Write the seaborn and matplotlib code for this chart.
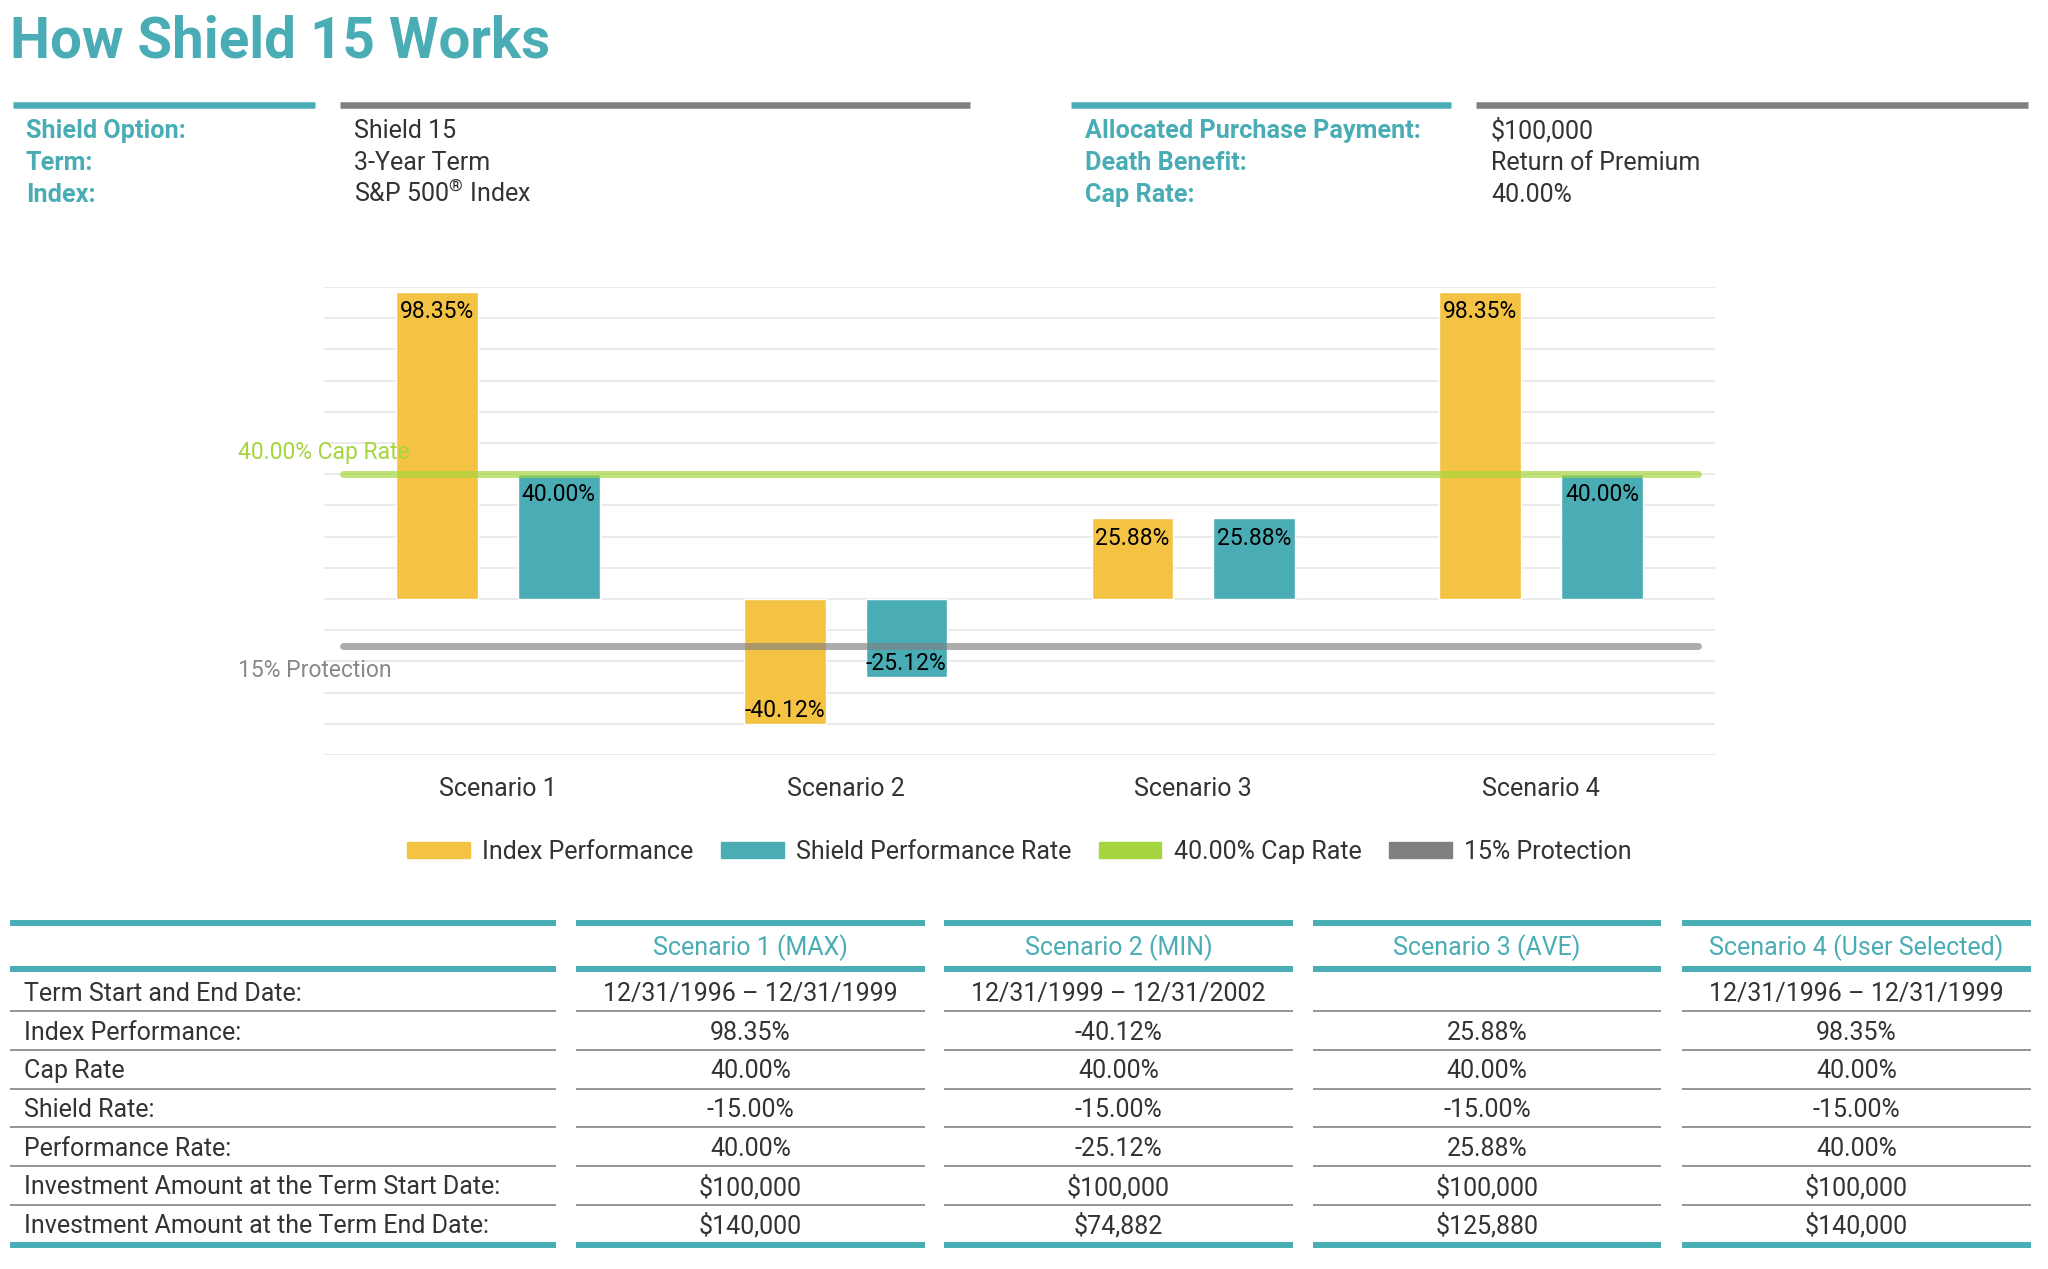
import numpy as np
import pandas as pd
import seaborn as sns
import matplotlib.pyplot as plt
from matplotlib.patches import Patch

# chart data
scenarios = ['Scenario 1', 'Scenario 2', 'Scenario 3', 'Scenario 4']
index_perf = [98.35, -40.12, 25.88, 98.35]
shield_perf = [40.00, -25.12, 25.88, 40.00]
cap_rate = 40.0
protection = -15.0

# header info block
info_left_labels = ['Shield Option:', 'Term:', 'Index:']
info_left_values = ['Shield 15', '3-Year Term', r'S&P 500$^{\circledR}$ Index']
info_right_labels = ['Allocated Purchase Payment:', 'Death Benefit:', 'Cap Rate:']
info_right_values = ['\\$100,000', 'Return of Premium', '40.00%']

# table
table_headers = ['Scenario 1 (MAX)', 'Scenario 2 (MIN)', 'Scenario 3 (AVE)', 'Scenario 4 (User Selected)']
row_labels = ['Term Start and End Date:', 'Index Performance:', 'Cap Rate', 'Shield Rate:',
              'Performance Rate:', 'Investment Amount at the Term Start Date:',
              'Investment Amount at the Term End Date:']
scen1_col = ['12/31/1996 – 12/31/1999', '98.35%', '40.00%', '-15.00%', '40.00%', '$100,000', '$140,000']
scen2_col = ['12/31/1999 – 12/31/2002', '-40.12%', '40.00%', '-15.00%', '-25.12%', '$100,000', '$74,882']
scen3_col = ['', '25.88%', '40.00%', '-15.00%', '25.88%', '$100,000', '$125,880']
scen4_col = ['12/31/1996 – 12/31/1999', '98.35%', '40.00%', '-15.00%', '40.00%', '$100,000', '$140,000']

TEAL = '#4AADB5'
ORANGE = '#F5C344'
LIME = '#A6D63F'
GRAY = '#808080'
TXT = '#333333'

sns.set_style('white')
plt.rcParams['font.family'] = ['Roboto', 'DejaVu Sans']
plt.rcParams['mathtext.fontset'] = 'custom'
plt.rcParams['mathtext.rm'] = 'Roboto'

fig = plt.figure(figsize=(20.48, 12.69), dpi=100)

# background axes in pixel coords for header / table layout
bg = fig.add_axes([0, 0, 1, 1])
bg.set_xlim(0, 2048)
bg.set_ylim(1269, 0)
bg.axis('off')

bg.text(10, 42, 'How Shield 15 Works', fontsize=40.7, fontweight='bold', color=TEAL, va='center', ha='left')

# header lines
for x0, x1, c in [(13, 315, TEAL), (340, 970, GRAY), (1071, 1451, TEAL), (1476, 2028, GRAY)]:
    bg.plot([x0, x1], [104.5, 104.5], color=c, lw=4.7, solid_capstyle='butt')

for i, (lab, val) in enumerate(zip(info_left_labels, info_left_values)):
    y = 131 + i * 32
    bg.text(26, y, lab, fontsize=18.2, fontweight='bold', color=TEAL, va='center')
    if '$' in val:
        bg.text(354, y - 4, val, fontsize=18, color=TXT, va='center_baseline')
    else:
        bg.text(354, y, val, fontsize=18, color=TXT, va='center')
for i, (lab, val) in enumerate(zip(info_right_labels, info_right_values)):
    y = 131 + i * 32
    bg.text(1085, y, lab, fontsize=18.2, fontweight='bold', color=TEAL, va='center')
    bg.text(1491, y, val, fontsize=18, color=TXT, va='center')

# chart
ax = fig.add_axes([324 / 2048, 514 / 1269, 1391 / 2048, 468 / 1269])
df = pd.DataFrame({
    'scenario': scenarios * 2,
    'series': ['Index Performance'] * 4 + ['Shield Performance Rate'] * 4,
    'value': index_perf + shield_perf,
})
sns.barplot(data=df, x='scenario', y='value', hue='series', palette=[ORANGE, TEAL],
            width=0.7, gap=0.33, saturation=1, errorbar=None, legend=False, ax=ax, zorder=2)

ax.set_xlim(-0.5, 3.5)
ax.set_ylim(-50, 100)
ax.set_yticks(np.arange(-50, 101, 10))
ax.yaxis.grid(True, color='#E6E6E6', lw=1.2)
ax.set_axisbelow(True)
ax.tick_params(axis='y', left=False, labelleft=False)
ax.tick_params(axis='x', bottom=False, pad=12, labelsize=18, labelcolor=TXT)
ax.set_xlabel('')
ax.set_ylabel('')
sns.despine(ax=ax, left=True, bottom=True)

for p in ax.patches:
    h = p.get_height()
    if h == 0:
        continue
    xc = p.get_x() + p.get_width() / 2
    if h > 0:
        ax.annotate(f'{h:.2f}%', (xc, h), xytext=(0, -6), textcoords='offset points',
                    ha='center', va='top', fontsize=16.5, color='black', zorder=5)
    else:
        ax.annotate(f'{h:.2f}%', (xc, h), xytext=(0, 5), textcoords='offset points',
                    ha='center', va='baseline', fontsize=16.5, color='black', zorder=5)

ax.axhline(cap_rate, xmin=0.014, xmax=0.988, color=LIME, lw=5, alpha=0.7, zorder=3)
ax.axhline(protection, xmin=0.014, xmax=0.988, color=GRAY, lw=5, alpha=0.65, zorder=3)

ax.text(-0.062, 47, f'{cap_rate:.2f}% Cap Rate', transform=ax.get_yaxis_transform(),
        fontsize=16.5, color=LIME, va='center', ha='left')
ax.text(-0.062, -23, '15% Protection', transform=ax.get_yaxis_transform(),
        fontsize=16.5, color='#888888', va='center', ha='left')

handles = [Patch(color=ORANGE, label='Index Performance'),
           Patch(color=TEAL, label='Shield Performance Rate'),
           Patch(color=LIME, label=f'{cap_rate:.2f}% Cap Rate'),
           Patch(color=GRAY, label='15% Protection')]
leg = ax.legend(handles=handles, loc='center', bbox_to_anchor=(0.5, -0.207), ncol=4, frameon=False,
                fontsize=18, handlelength=2.5, handleheight=0.65, handletextpad=0.5, columnspacing=1.1)
for t in leg.get_texts():
    t.set_color(TXT)

# table
col_ranges = [(10, 556), (576, 925), (944, 1293), (1313, 1661), (1682, 2031)]
columns = [scen1_col, scen2_col, scen3_col, scen4_col]
row0 = 994
pitch = 38.7
for x0, x1 in col_ranges:
    for y in [923, 969, 1245]:
        bg.plot([x0, x1], [y, y], color=TEAL, lw=4.3, solid_capstyle='butt')
    for r in range(len(row_labels) - 1):
        y = row0 - 2 + pitch * (r + 0.5)
        bg.plot([x0, x1], [y, y], color='#8C8C8C', lw=1.3, solid_capstyle='butt')

for (x0, x1), head, col in zip(col_ranges[1:], table_headers, columns):
    xc = (x0 + x1) / 2
    bg.text(xc, 948, head, fontsize=18, color=TEAL, ha='center', va='center')
    for r, val in enumerate(col):
        bg.text(xc, row0 + pitch * r, val.replace('$', '\\$'), fontsize=18, color=TXT, ha='center', va='center')

for r, lab in enumerate(row_labels):
    bg.text(24, row0 + pitch * r, lab, fontsize=18, color=TXT, ha='left', va='center')

fig.savefig('out.png', dpi=100)
